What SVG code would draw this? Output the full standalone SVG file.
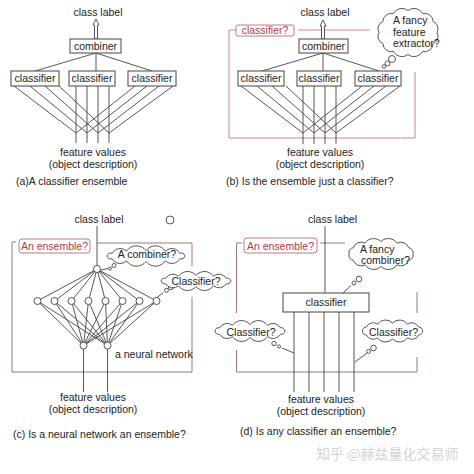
<svg xmlns="http://www.w3.org/2000/svg" width="474" height="474" viewBox="0 0 474 474">
<style>
text{font-family:"Liberation Sans",Arial,sans-serif;font-size:10.5px;fill:#222}
.c{text-anchor:middle}
.red{fill:#b23a48}
.box{fill:#fff;stroke:#444;stroke-width:1}
.rbox{fill:#fff;stroke:#c07a82;stroke-width:1}
.ln{fill:none;stroke:#444;stroke-width:0.9}
.fr{fill:none;stroke:#a07676;stroke-width:1}
.frb{fill:none;stroke:#c8848c;stroke-width:1}
.cl{fill:#fff;stroke:#444;stroke-width:0.9}
.nd{fill:#fff;stroke:#444;stroke-width:0.9}
.wm{font-family:"Noto Sans CJK SC","Liberation Sans",sans-serif;font-size:14px;fill:#d4d4d4}
</style>
<rect width="474" height="474" fill="#fff"/>

<!-- Panel (a) -->
<g id="panel-a">
  <g id="a-connectors">
    <path class="ln" d="M96 53L35 71M96 53L96 71M96 53L152 71"/>
    <path class="ln" d="M76 86V143M87 86V143M98 86V143M109 86V143"/>
    <path class="ln" d="M14 86L76 133M30 86L87 133M45 86L98 133M59 86L109 133"/>
    <path class="ln" d="M135 86L76 133M147 86L87 133M159 86L98 133M173 86L109 133"/>
    <polygon points="96,19 99,25 97.5,25 97.5,39 94.5,39 94.5,25 93,25" fill="#fff" stroke="#444" stroke-width="0.9"/>
  </g>
  <g id="a-classlabel"><text class="c" x="98" y="16">class label</text></g>
  <g id="a-combiner"><rect class="box" x="70" y="39" width="51" height="14"/><text class="c" x="95.5" y="50">combiner</text></g>
  <g id="a-classifier1"><rect class="box" x="11" y="71" width="48" height="15"/><text class="c" x="35" y="82">classifier</text></g>
  <g id="a-classifier2"><rect class="box" x="69" y="71" width="46" height="15"/><text class="c" x="92" y="82">classifier</text></g>
  <g id="a-classifier3"><rect class="box" x="128" y="71" width="48" height="15"/><text class="c" x="152" y="82">classifier</text></g>
  <g id="a-features"><text class="c" x="93" y="155.5">feature values</text><text class="c" x="93" y="167.5">(object description)</text></g>
  <text x="16" y="185">(a)A classifier ensemble</text>
</g>

<!-- Panel (b) -->
<g id="panel-b">
  <g id="b-frame">
    <path class="frb" d="M236 30H229V138H415V72M298 30H370"/>
  </g>
  <g transform="translate(227,0)">
    <g id="b-connectors">
      <path class="ln" d="M96 53L35 71M96 53L96 71M96 53L152 71"/>
      <path class="ln" d="M76 86V144M87 86V144M98 86V144M109 86V144"/>
      <path class="ln" d="M14 86L76 133M30 86L87 133M45 86L98 133M59 86L109 133"/>
      <path class="ln" d="M135 86L76 133M147 86L87 133M159 86L98 133M173 86L109 133"/>
      <polygon points="96,20 99,26 97.5,26 97.5,39 94.5,39 94.5,26 93,26" fill="#fff" stroke="#444" stroke-width="0.9"/>
    </g>
    <g id="b-classlabel"><text class="c" x="98" y="16">class label</text></g>
    <g id="b-combiner"><rect class="box" x="72" y="39" width="49" height="14"/><text class="c" x="96.5" y="50">combiner</text></g>
    <g id="b-classifier1"><rect class="box" x="11" y="71" width="46" height="15"/><text class="c" x="34" y="82">classifier</text></g>
    <g id="b-classifier2"><rect class="box" x="70" y="71" width="44" height="15"/><text class="c" x="92" y="82">classifier</text></g>
    <g id="b-classifier3"><rect class="box" x="128" y="71" width="46" height="15"/><text class="c" x="151" y="82">classifier</text></g>
    <g id="b-features"><text class="c" x="93" y="155.5">feature values</text><text class="c" x="93" y="167.5">(object description)</text></g>
  </g>
  <g id="b-question"><rect class="rbox" x="236" y="25" width="58" height="11" rx="2"/><text class="c red" x="265" y="34">classifier?</text></g>
  <g id="b-cloud">
    <circle class="cl" cx="384" cy="66.5" r="1.8"/>
    <circle class="cl" cx="387.5" cy="63.5" r="2.5"/>
    <circle class="cl" cx="392" cy="59" r="3.5"/>
    <path class="cl" d="M408 10.5A9.6 9.6 0 0 1 422.5 13.45A8.6 8.6 0 0 1 433.1 21.5A7.6 7.6 0 0 1 437 32.5A7.6 7.6 0 0 1 433.1 43.5A8.6 8.6 0 0 1 422.5 51.55A9.6 9.6 0 0 1 408 54.5A9.6 9.6 0 0 1 393.5 51.55A8.6 8.6 0 0 1 382.9 43.5A7.6 7.6 0 0 1 379 32.5A7.6 7.6 0 0 1 382.9 21.5A8.6 8.6 0 0 1 393.5 13.45A9.6 9.6 0 0 1 408 10.5Z"/>
    <text x="393" y="24">A fancy</text><text x="393" y="35.5">feature</text><text x="393" y="47">extractor?</text>
  </g>
  <text x="226" y="185">(b) Is the ensemble just a classifier?</text>
</g>

<!-- Panel (c) -->
<g id="panel-c">
  <g id="c-frame"><path class="fr" d="M16 242H12V372H192V297M192 266V243H97"/></g>
  <g id="c-connectors">
    <path class="ln" d="M97 226V269"/>
    <path class="ln" d="M97 269L37.5 301M97 269L54.5 301M97 269L71.5 301M97 269L88.5 301M97 269L105.5 301M97 269L122.5 301M97 269L139.5 301M97 269L156.5 301"/>
    <path class="ln" d="M37.5 301L83.5 345.5M37.5 301L107.5 345.5M54.5 301L83.5 345.5M54.5 301L107.5 345.5M71.5 301L83.5 345.5M71.5 301L107.5 345.5M88.5 301L83.5 345.5M88.5 301L107.5 345.5M105.5 301L83.5 345.5M105.5 301L107.5 345.5M122.5 301L83.5 345.5M122.5 301L107.5 345.5M139.5 301L83.5 345.5M139.5 301L107.5 345.5M156.5 301L83.5 345.5M156.5 301L107.5 345.5"/>
    <path class="ln" d="M83.5 349V392M107.5 349V392"/>
  </g>
  <g id="c-classlabel"><text class="c" x="99" y="223">class label</text></g>
  <circle class="nd" cx="170" cy="220" r="4"/>
  <g id="c-question"><rect class="rbox" x="19" y="239" width="71" height="14" rx="3"/><text class="c red" x="54.5" y="250">An ensemble?</text></g>
  <g id="c-nodes">
    <circle class="nd" cx="97" cy="269" r="3.5"/>
    <circle class="nd" cx="37.5" cy="301" r="3.5"/>
    <circle class="nd" cx="54.5" cy="301" r="3.5"/>
    <circle class="nd" cx="71.5" cy="301" r="3.5"/>
    <circle class="nd" cx="88.5" cy="301" r="3.5"/>
    <circle class="nd" cx="105.5" cy="301" r="3.5"/>
    <circle class="nd" cx="122.5" cy="301" r="3.5"/>
    <circle class="nd" cx="139.5" cy="301" r="3.5"/>
    <circle class="nd" cx="156.5" cy="301" r="3.5"/>
    <circle class="nd" cx="83.5" cy="345.5" r="3.5"/>
    <circle class="nd" cx="107.5" cy="345.5" r="3.5"/>
  </g>
  <g id="c-cloud-combiner">
    <path class="ln" d="M108 268.5L101 270"/>
    <circle class="cl" cx="110" cy="268.5" r="1.5"/>
    <circle class="cl" cx="114" cy="265.5" r="2"/>
    <path class="cl" d="M146 250.5A12 12 0 0 1 165.5 251.2A9 9 0 0 1 179.8 253.25A4 4 0 0 1 185 256A4 4 0 0 1 179.8 258.75A9 9 0 0 1 165.5 260.8A12 12 0 0 1 146 261.5A12 12 0 0 1 126.5 260.8A9 9 0 0 1 112.2 258.75A4 4 0 0 1 107 256A4 4 0 0 1 112.2 253.25A9 9 0 0 1 126.5 251.2A12 12 0 0 1 146 250.5Z"/>
    <text class="c" x="147" y="257.5">A combiner?</text>
  </g>
  <g id="c-cloud-classifier">
    <path class="ln" d="M163.3 292.7L157 297.5"/>
    <circle class="cl" cx="166.5" cy="290.3" r="2"/>
    <circle class="cl" cx="171" cy="287" r="2.6"/>
    <path class="cl" d="M196 275.5A11 11 0 0 1 213.5 276.2A8.5 8.5 0 0 1 226.3 278.25A3.7 3.7 0 0 1 231 281A3.7 3.7 0 0 1 226.3 283.75A8.5 8.5 0 0 1 213.5 285.8A11 11 0 0 1 196 286.5A11 11 0 0 1 178.5 285.8A8.5 8.5 0 0 1 165.7 283.75A3.7 3.7 0 0 1 161 281A3.7 3.7 0 0 1 165.7 278.25A8.5 8.5 0 0 1 178.5 276.2A11 11 0 0 1 196 275.5Z"/>
    <text class="c" x="196" y="284.5">Classifier?</text>
  </g>
  <text x="115" y="357.5">a neural network</text>
  <g id="c-features"><text class="c" x="93" y="401">feature values</text><text class="c" x="93" y="413">(object description)</text></g>
  <text x="13" y="437.5">(c) Is a neural network an ensemble?</text>
</g>

<!-- Panel (d) -->
<g id="panel-d">
  <g id="d-frame"><path class="fr" d="M242 243H236.5V313M236.5 350V372H417V357M417 313V292M320 243H345"/></g>
  <g id="d-connectors">
    <path class="ln" d="M325 226V293"/>
    <path class="ln" d="M294 312V392M309 312V392M324 312V392M339 312V392M354 312V392"/>
  </g>
  <g id="d-classlabel"><text class="c" x="332.5" y="223">class label</text></g>
  <g id="d-question"><rect class="rbox" x="244" y="238" width="73" height="15" rx="3"/><text class="c red" x="280.5" y="249.5">An ensemble?</text></g>
  <g id="d-cloud-combiner">
    <path class="ln" d="M351 285.5L343 293"/>
    <circle class="cl" cx="354" cy="283" r="2"/>
    <circle class="cl" cx="359" cy="279" r="2.8"/>
    <path class="cl" d="M381 241.5A10.5 10.5 0 0 1 397 243.18A8.2 8.2 0 0 1 408.7 247.75A5 5 0 0 1 413 254A5 5 0 0 1 408.7 260.25A8.2 8.2 0 0 1 397 264.83A10.5 10.5 0 0 1 381 266.5A10.5 10.5 0 0 1 365 264.83A8.2 8.2 0 0 1 353.3 260.25A5 5 0 0 1 349 254A5 5 0 0 1 353.3 247.75A8.2 8.2 0 0 1 365 243.18A10.5 10.5 0 0 1 381 241.5Z"/>
    <text x="360" y="253">A fancy</text><text x="361" y="264">combiner?</text>
  </g>
  <g id="d-classifier"><rect class="box" x="283" y="293" width="86" height="19"/><text class="c" x="326" y="306">classifier</text></g>
  <g id="d-cloud-left">
    <path class="ln" d="M282 348L294 353"/>
    <circle class="cl" cx="279" cy="346.5" r="1.6"/>
    <circle class="cl" cx="274" cy="343.5" r="2.2"/>
    <path class="cl" d="M250 324.5A11 11 0 0 1 267.5 325.37A8.5 8.5 0 0 1 280.3 327.75A3.8 3.8 0 0 1 285 331A3.8 3.8 0 0 1 280.3 334.25A8.5 8.5 0 0 1 267.5 336.63A11 11 0 0 1 250 337.5A11 11 0 0 1 232.5 336.63A8.5 8.5 0 0 1 219.7 334.25A3.8 3.8 0 0 1 215 331A3.8 3.8 0 0 1 219.7 327.75A8.5 8.5 0 0 1 232.5 325.37A11 11 0 0 1 250 324.5Z"/>
    <text class="c" x="251" y="336">Classifier?</text>
  </g>
  <g id="d-cloud-right">
    <path class="ln" d="M366.5 353.5L355 362"/>
    <circle class="cl" cx="368.5" cy="351.5" r="2"/>
    <circle class="cl" cx="373.5" cy="348" r="2.8"/>
    <path class="cl" d="M392.5 323A9.8 9.8 0 0 1 407.5 324.07A7.4 7.4 0 0 1 418.5 327A3.8 3.8 0 0 1 422.5 331A3.8 3.8 0 0 1 418.5 335A7.4 7.4 0 0 1 407.5 337.93A9.8 9.8 0 0 1 392.5 339A9.8 9.8 0 0 1 377.5 337.93A7.4 7.4 0 0 1 366.5 335A3.8 3.8 0 0 1 362.5 331A3.8 3.8 0 0 1 366.5 327A7.4 7.4 0 0 1 377.5 324.07A9.8 9.8 0 0 1 392.5 323Z"/>
    <text class="c" x="393.5" y="335.5">Classifier?</text>
  </g>
  <g id="d-features"><text class="c" x="321" y="403">feature values</text><text class="c" x="321" y="415">(object description)</text></g>
  <text x="240" y="435">(d) Is any classifier an ensemble?</text>
</g>

<text class="wm" x="316" y="459">知乎 @赫兹量化交易师</text>
</svg>
